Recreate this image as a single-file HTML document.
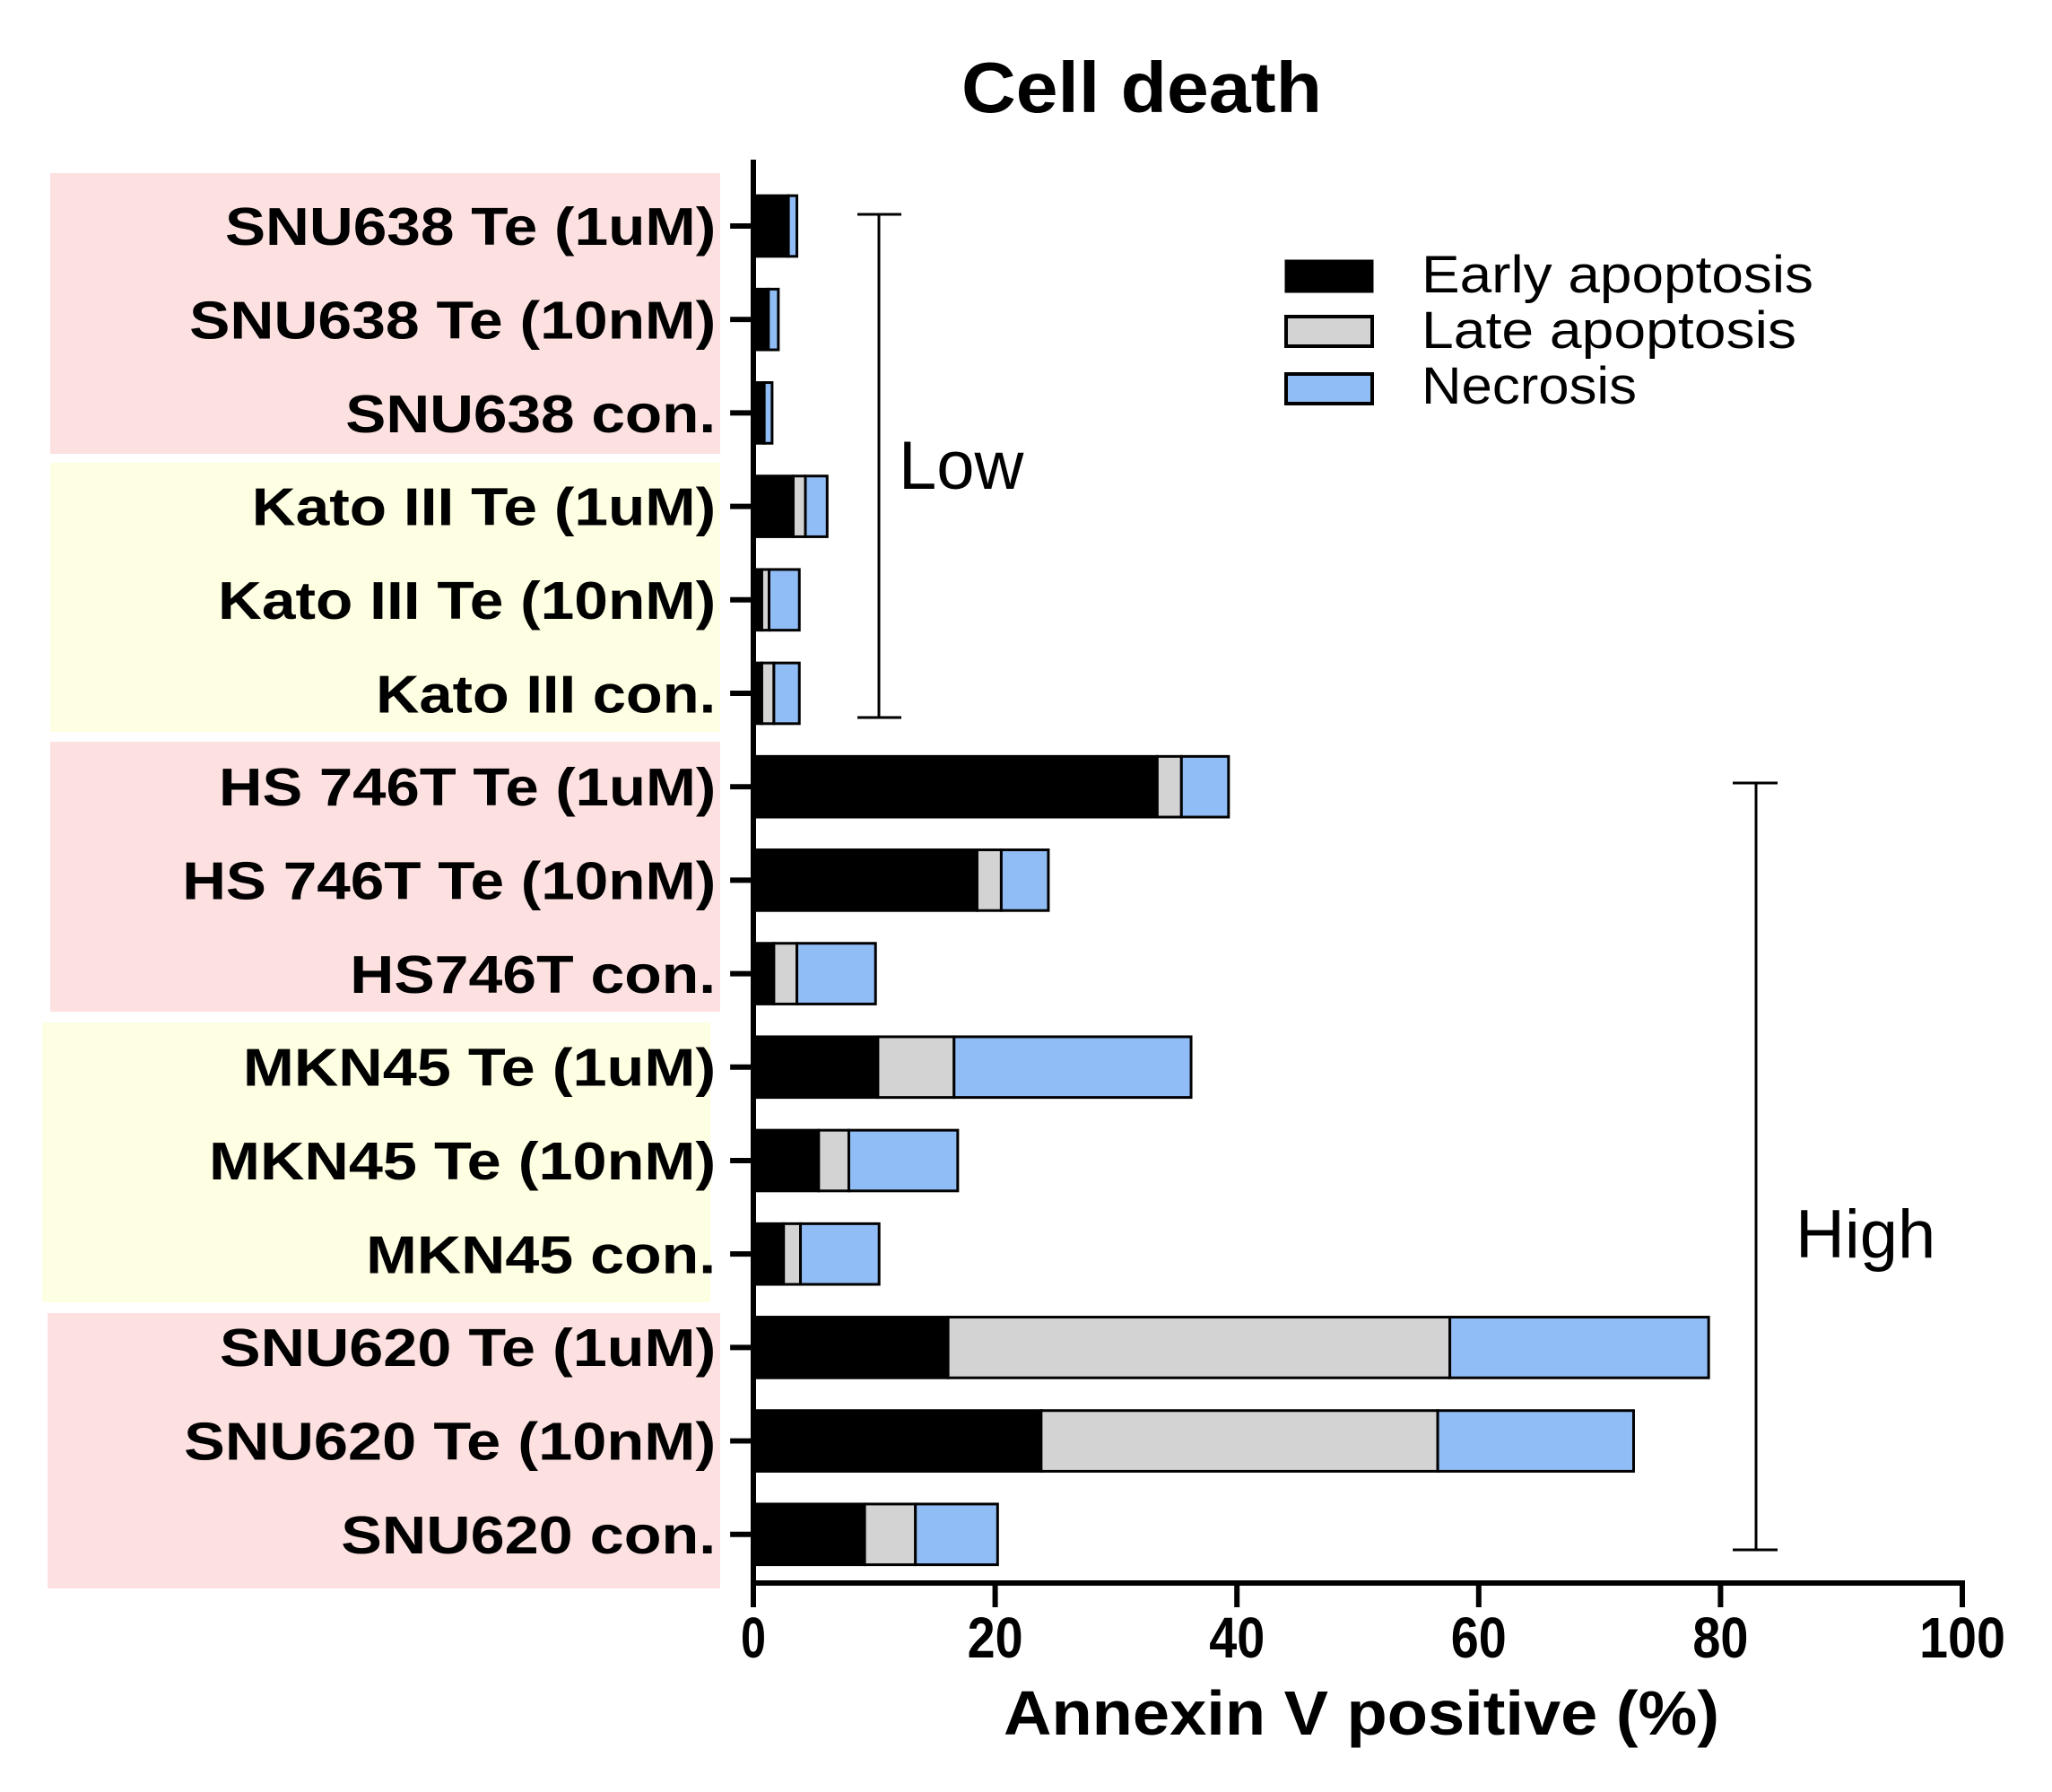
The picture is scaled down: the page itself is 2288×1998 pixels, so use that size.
<!DOCTYPE html>
<html><head><meta charset="utf-8"><style>html,body{margin:0;padding:0;background:#fff}svg{display:block}</style></head>
<body>
<svg width="2288" height="1998" viewBox="0 0 2288 1998" xmlns="http://www.w3.org/2000/svg" font-family="Liberation Sans, Arial, sans-serif">
<rect x="0" y="0" width="2288" height="1998" fill="#fff"/>
<rect x="56" y="193" width="747" height="313" fill="#fde0e0"/>
<rect x="56" y="516" width="747" height="300" fill="#fefee2"/>
<rect x="56" y="827" width="747" height="301" fill="#fde0e0"/>
<rect x="47" y="1140" width="745" height="312" fill="#fefee2"/>
<rect x="53" y="1464" width="750" height="307" fill="#fde0e0"/>
<text x="1273" y="125" font-size="80" font-weight="bold" text-anchor="middle" textLength="402" lengthAdjust="spacingAndGlyphs">Cell death</text>
<g transform="translate(840,252) scale(0.995,0.9952) translate(-840,-252)">
<g stroke="#000" stroke-width="3">
<rect x="840" y="218" width="39.3" height="68" fill="#000"/><rect x="879.3" y="218" width="9.5" height="68" fill="#91bdf6"/>
<rect x="840" y="322.7" width="16.9" height="68" fill="#000"/><rect x="856.9" y="322.7" width="11.1" height="68" fill="#91bdf6"/>
<rect x="840" y="427.4" width="12.2" height="68" fill="#000"/><rect x="852.2" y="427.4" width="8.8" height="68" fill="#91bdf6"/>
<rect x="840" y="532.1" width="44.7" height="68" fill="#000"/><rect x="884.7" y="532.1" width="13.6" height="68" fill="#d3d3d3"/><rect x="898.3" y="532.1" width="24.4" height="68" fill="#91bdf6"/>
<rect x="840" y="636.8" width="9.5" height="68" fill="#000"/><rect x="849.5" y="636.8" width="8.1" height="68" fill="#d3d3d3"/><rect x="857.6" y="636.8" width="33.9" height="68" fill="#91bdf6"/>
<rect x="840" y="741.5" width="9.5" height="68" fill="#000"/><rect x="849.5" y="741.5" width="13.5" height="68" fill="#d3d3d3"/><rect x="863" y="741.5" width="28.5" height="68" fill="#91bdf6"/>
<rect x="840" y="846.2" width="452.6" height="68" fill="#000"/><rect x="1292.6" y="846.2" width="27.1" height="68" fill="#d3d3d3"/><rect x="1319.7" y="846.2" width="52.8" height="68" fill="#91bdf6"/>
<rect x="840" y="950.9" width="250.7" height="68" fill="#000"/><rect x="1090.7" y="950.9" width="27.1" height="68" fill="#d3d3d3"/><rect x="1117.8" y="950.9" width="52.8" height="68" fill="#91bdf6"/>
<rect x="840" y="1055.6" width="23" height="68" fill="#000"/><rect x="863" y="1055.6" width="25.8" height="68" fill="#d3d3d3"/><rect x="888.8" y="1055.6" width="88.1" height="68" fill="#91bdf6"/>
<rect x="840" y="1160.3" width="139.6" height="68" fill="#000"/><rect x="979.6" y="1160.3" width="85.3" height="68" fill="#d3d3d3"/><rect x="1064.9" y="1160.3" width="265.6" height="68" fill="#91bdf6"/>
<rect x="840" y="1265" width="73.2" height="68" fill="#000"/><rect x="913.2" y="1265" width="33.8" height="68" fill="#d3d3d3"/><rect x="947" y="1265" width="122" height="68" fill="#91bdf6"/>
<rect x="840" y="1369.7" width="33.9" height="68" fill="#000"/><rect x="873.9" y="1369.7" width="18.9" height="68" fill="#d3d3d3"/><rect x="892.8" y="1369.7" width="88.1" height="68" fill="#91bdf6"/>
<rect x="840" y="1474.4" width="218.2" height="68" fill="#000"/><rect x="1058.2" y="1474.4" width="562.3" height="68" fill="#d3d3d3"/><rect x="1620.5" y="1474.4" width="290" height="68" fill="#91bdf6"/>
<rect x="840" y="1579.1" width="322.5" height="68" fill="#000"/><rect x="1162.5" y="1579.1" width="444.4" height="68" fill="#d3d3d3"/><rect x="1606.9" y="1579.1" width="219.5" height="68" fill="#91bdf6"/>
<rect x="840" y="1683.8" width="124.7" height="68" fill="#000"/><rect x="964.7" y="1683.8" width="56.9" height="68" fill="#d3d3d3"/><rect x="1021.6" y="1683.8" width="92.1" height="68" fill="#91bdf6"/>
</g>
<g font-size="60" font-weight="bold" text-anchor="end">
<text x="798" y="273" textLength="550" lengthAdjust="spacingAndGlyphs">SNU638 Te (1uM)</text>
<text x="798" y="378" textLength="590" lengthAdjust="spacingAndGlyphs">SNU638 Te (10nM)</text>
<text x="798" y="483" textLength="415" lengthAdjust="spacingAndGlyphs">SNU638 con.</text>
<text x="798" y="587" textLength="520" lengthAdjust="spacingAndGlyphs">Kato III Te (1uM)</text>
<text x="798" y="692" textLength="558" lengthAdjust="spacingAndGlyphs">Kato III Te (10nM)</text>
<text x="798" y="797" textLength="381" lengthAdjust="spacingAndGlyphs">Kato III con.</text>
<text x="798" y="901" textLength="557" lengthAdjust="spacingAndGlyphs">HS 746T Te (1uM)</text>
<text x="798" y="1006" textLength="598" lengthAdjust="spacingAndGlyphs">HS 746T Te (10nM)</text>
<text x="798" y="1111" textLength="410" lengthAdjust="spacingAndGlyphs">HS746T con.</text>
<text x="798" y="1215" textLength="530" lengthAdjust="spacingAndGlyphs">MKN45 Te (1uM)</text>
<text x="798" y="1320" textLength="568" lengthAdjust="spacingAndGlyphs">MKN45 Te (10nM)</text>
<text x="798" y="1425" textLength="392" lengthAdjust="spacingAndGlyphs">MKN45 con.</text>
<text x="798" y="1529" textLength="556" lengthAdjust="spacingAndGlyphs">SNU620 Te (1uM)</text>
<text x="798" y="1634" textLength="596" lengthAdjust="spacingAndGlyphs">SNU620 Te (10nM)</text>
<text x="798" y="1739" textLength="420" lengthAdjust="spacingAndGlyphs">SNU620 con.</text>
</g>
<g stroke="#000" stroke-width="6">
<line x1="814" y1="252" x2="840" y2="252"/><line x1="814" y1="356.7" x2="840" y2="356.7"/><line x1="814" y1="461.4" x2="840" y2="461.4"/>
<line x1="814" y1="566.1" x2="840" y2="566.1"/><line x1="814" y1="670.8" x2="840" y2="670.8"/><line x1="814" y1="775.5" x2="840" y2="775.5"/>
<line x1="814" y1="880.2" x2="840" y2="880.2"/><line x1="814" y1="984.9" x2="840" y2="984.9"/><line x1="814" y1="1089.6" x2="840" y2="1089.6"/>
<line x1="814" y1="1194.3" x2="840" y2="1194.3"/><line x1="814" y1="1299" x2="840" y2="1299"/><line x1="814" y1="1403.7" x2="840" y2="1403.7"/>
<line x1="814" y1="1508.4" x2="840" y2="1508.4"/><line x1="814" y1="1613.1" x2="840" y2="1613.1"/><line x1="814" y1="1717.8" x2="840" y2="1717.8"/>
</g>
</g>
<g stroke="#000" stroke-width="6">
<line x1="840" y1="178" x2="840" y2="1768"/>
<line x1="837" y1="1765" x2="2191" y2="1765"/>
<line x1="840" y1="1765" x2="840" y2="1792"/><line x1="1109.6" y1="1765" x2="1109.6" y2="1792"/><line x1="1379.2" y1="1765" x2="1379.2" y2="1792"/>
<line x1="1648.8" y1="1765" x2="1648.8" y2="1792"/><line x1="1918.4" y1="1765" x2="1918.4" y2="1792"/><line x1="2188" y1="1765" x2="2188" y2="1792"/>
</g>
<g font-size="64" font-weight="bold" text-anchor="middle">
<text x="840" y="1848" textLength="28" lengthAdjust="spacingAndGlyphs">0</text>
<text x="1109.6" y="1848" textLength="62" lengthAdjust="spacingAndGlyphs">20</text>
<text x="1379.2" y="1848" textLength="62" lengthAdjust="spacingAndGlyphs">40</text>
<text x="1648.8" y="1848" textLength="62" lengthAdjust="spacingAndGlyphs">60</text>
<text x="1918.4" y="1848" textLength="62" lengthAdjust="spacingAndGlyphs">80</text>
<text x="2188" y="1848" textLength="96" lengthAdjust="spacingAndGlyphs">100</text>
</g>
<text x="1518" y="1934" font-size="70" font-weight="bold" text-anchor="middle" textLength="798" lengthAdjust="spacingAndGlyphs">Annexin V positive (%)</text>
<g stroke="#000" stroke-width="3">
<line x1="980" y1="239" x2="980" y2="800"/><line x1="956" y1="239" x2="1005" y2="239"/><line x1="956" y1="800" x2="1005" y2="800"/>
<line x1="1958" y1="873" x2="1958" y2="1728"/><line x1="1932" y1="873" x2="1982" y2="873"/><line x1="1932" y1="1728" x2="1982" y2="1728"/>
</g>
<text x="1002" y="545" font-size="76">Low</text>
<text x="2002" y="1402" font-size="76">High</text>
<rect x="1434" y="291" width="96" height="34" fill="#000" stroke="#000" stroke-width="3"/>
<rect x="1434" y="353" width="96" height="33" fill="#d3d3d3" stroke="#000" stroke-width="4"/>
<rect x="1434" y="417" width="96" height="33" fill="#91bdf6" stroke="#000" stroke-width="4"/>
<g font-size="58">
<text x="1585" y="326" textLength="437" lengthAdjust="spacingAndGlyphs">Early apoptosis</text>
<text x="1585" y="388" textLength="418" lengthAdjust="spacingAndGlyphs">Late apoptosis</text>
<text x="1585" y="450" textLength="240" lengthAdjust="spacingAndGlyphs">Necrosis</text>
</g>
</svg>
</body></html>
